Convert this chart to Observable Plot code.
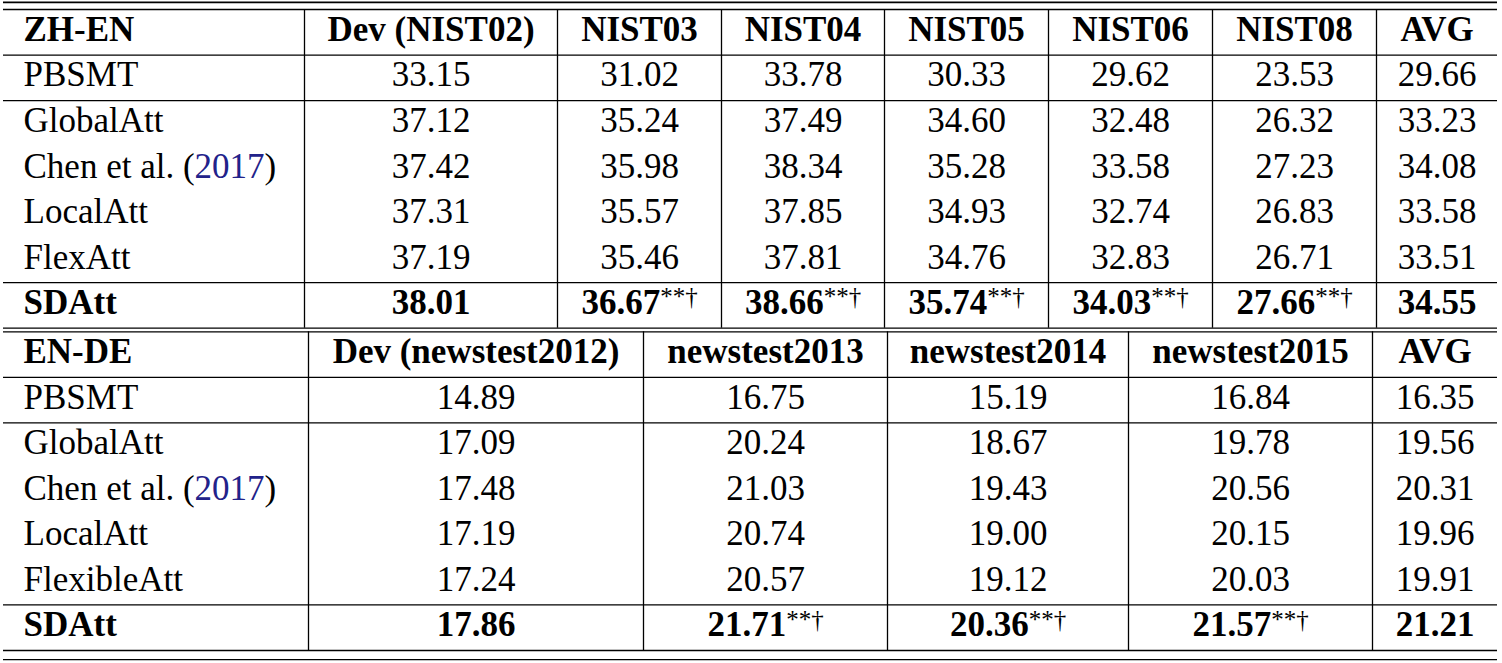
<!DOCTYPE html>
<html><head><meta charset="utf-8">
<script src="https://cdn.jsdelivr.net/npm/d3@7"></script>
<script src="https://cdn.jsdelivr.net/npm/@observablehq/plot@0.6"></script>
<style>html,body{margin:0;padding:0;background:#fff}</style>
</head><body><div id="chart"></div>
<script>
// ---------------- data ----------------
const zhHeader = ["ZH-EN", "Dev (NIST02)", "NIST03", "NIST04", "NIST05", "NIST06", "NIST08", "AVG"];
const zhModels = ["PBSMT", "GlobalAtt", "Chen et al. (2017)", "LocalAtt", "FlexAtt", "SDAtt"];
const zhPBSMT     = [33.15, 31.02, 33.78, 30.33, 29.62, 23.53, 29.66];
const zhGlobalAtt = [37.12, 35.24, 37.49, 34.60, 32.48, 26.32, 33.23];
const zhChen      = [37.42, 35.98, 38.34, 35.28, 33.58, 27.23, 34.08];
const zhLocalAtt  = [37.31, 35.57, 37.85, 34.93, 32.74, 26.83, 33.58];
const zhFlexAtt   = [37.19, 35.46, 37.81, 34.76, 32.83, 26.71, 33.51];
const zhSDAtt     = [38.01, 36.67, 38.66, 35.74, 34.03, 27.66, 34.55];
const zhSig       = [false, true, true, true, true, true, false];

const deHeader = ["EN-DE", "Dev (newstest2012)", "newstest2013", "newstest2014", "newstest2015", "AVG"];
const deModels = ["PBSMT", "GlobalAtt", "Chen et al. (2017)", "LocalAtt", "FlexibleAtt", "SDAtt"];
const dePBSMT     = [14.89, 16.75, 15.19, 16.84, 16.35];
const deGlobalAtt = [17.09, 20.24, 18.67, 19.78, 19.56];
const deChen      = [17.48, 21.03, 19.43, 20.56, 20.31];
const deLocalAtt  = [17.19, 20.74, 19.00, 20.15, 19.96];
const deFlexAtt   = [17.24, 20.57, 19.12, 20.03, 19.91];
const deSDAtt     = [17.86, 21.71, 20.36, 21.57, 21.21];
const deSig       = [false, true, true, true, false];

const sigMark = "**\u2020";
const boldModel = "SDAtt";

// ---------------- layout ----------------
const W = 1502, H = 663;
const FONT = "'Liberation Serif'";
const FS = 35, SUPFS = 25;
const zhEdges = [3, 304, 557, 721, 884, 1048, 1212, 1376, 1497];
const deEdges = [3, 308, 643, 887, 1128, 1372, 1497];
const zhY0 = 0, deY0 = 7.08;     // row-unit offsets of the two tables
const padL = 20;
const citeColor = "#22228a";

// Times / Liberation Serif advance widths (em) for the glyphs that need measuring
const ADV = {"0":.5,"1":.5,"2":.5,"3":.5,"4":.5,"5":.5,"6":.5,"7":.5,"8":.5,"9":.5,
  ".":.25," ":.25,"(":.333,")":.333,"*":.5,"\u2020":.5,
  "C":.667,"h":.5,"e":.444,"n":.5,"t":.278,"a":.444,"l":.278};
const advance = (t, size) => [...t].reduce((s, ch) => s + (ADV[ch] ?? .5), 0) * size;

function buildTable(header, models, scores, sig, edges, y0, cells, sups, cites) {
  const centers = edges.slice(0, -1).map((e, i) => (e + edges[i + 1]) / 2);
  header.forEach((h, j) => cells.push({
    x: j === 0 ? edges[0] + padL : centers[j], y: y0 + 0.5, text: h,
    anchor: j === 0 ? "start" : "middle", weight: "bold"
  }));
  models.forEach((m, i) => {
    const y = y0 + 1.5 + i;
    const bold = m === boldModel;
    const w = bold ? "bold" : "normal";
    const m2 = m.match(/^(.*\()(\d{4})(\))$/);
    if (m2) {
      const x0 = edges[0] + padL;
      const a = advance(m2[1], FS), b = advance(m2[2], FS);
      cites.push({x: x0, y, text: m2[1], color: "#000"});
      cites.push({x: x0 + a, y, text: m2[2], color: citeColor});
      cites.push({x: x0 + a + b, y, text: m2[3], color: "#000"});
    } else {
      cells.push({x: edges[0] + padL, y, text: m, anchor: "start", weight: w});
    }
    scores[i].forEach((v, j) => {
      const t = v.toFixed(2);
      const c = centers[j + 1];
      if (bold && sig[j]) {
        const wn = advance(t, FS), ws = advance(sigMark, SUPFS);
        const xe = c + (wn - ws) / 2;
        cells.push({x: xe, y, text: t, anchor: "end", weight: "bold"});
        sups.push({x: xe, y, text: sigMark});
      } else {
        cells.push({x: c, y, text: t, anchor: "middle", weight: w});
      }
    });
  });
}

const cells = [], sups = [], cites = [];
buildTable(zhHeader, zhModels, [zhPBSMT, zhGlobalAtt, zhChen, zhLocalAtt, zhFlexAtt, zhSDAtt], zhSig, zhEdges, zhY0, cells, sups, cites);
buildTable(deHeader, deModels, [dePBSMT, deGlobalAtt, deChen, deLocalAtt, deFlexAtt, deSDAtt], deSig, deEdges, deY0, cells, sups, cites);

const hRules = [];
for (const y0 of [zhY0, deY0]) for (const k of [0, 1, 2, 6, 7]) hRules.push({y: y0 + k, w: 1.3});
hRules.push({y: zhY0 - 0.155, w: 1.8});
hRules.push({y: deY0 + 7.2, w: 1.3});
const vRules = [];
zhEdges.slice(1, -1).forEach(x => vRules.push({x, y1: zhY0, y2: zhY0 + 7}));
deEdges.slice(1, -1).forEach(x => vRules.push({x, y1: deY0, y2: deY0 + 7}));

const chart = Plot.plot({
  width: W, height: H, margin: 0,
  x: {type: "linear", domain: [0, W], range: [0, W], axis: null},
  y: {type: "linear", domain: [0, 14.08], range: [9, 650], axis: null},
  style: {background: "#fff"},
  marks: [
    Plot.ruleY(hRules, {y: "y", x1: 3, x2: 1497, stroke: "#000", strokeWidth: "w"}),
    Plot.ruleX(vRules, {x: "x", y1: "y1", y2: "y2", stroke: "#000", strokeWidth: 1.3}),
    ...["start", "middle", "end"].flatMap(anchor => ["normal", "bold"].map(weight =>
      Plot.text(cells.filter(d => d.anchor === anchor && d.weight === weight),
        {x: "x", y: "y", text: "text", textAnchor: anchor, fontWeight: weight,
         fontFamily: FONT, fontSize: FS, dy: -2.5}))),
    Plot.text(cites, {x: "x", y: "y", text: "text", textAnchor: "start",
      fontFamily: FONT, fontSize: FS, dy: -2.5, fill: "color"}),
    Plot.text(sups, {x: "x", y: "y", text: "text", textAnchor: "start",
      fontFamily: FONT, fontSize: SUPFS, dy: -8})
  ]
});
document.getElementById("chart").appendChild(chart);
</script>
</body></html>
